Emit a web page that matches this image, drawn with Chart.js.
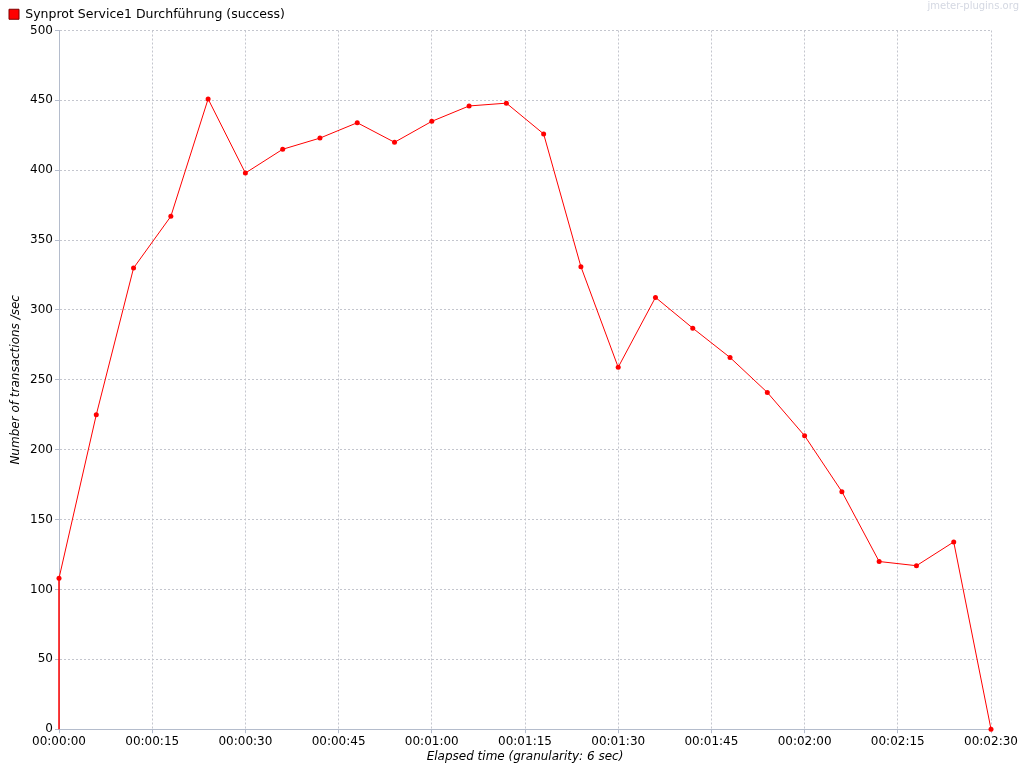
<!DOCTYPE html>
<html>
<head>
<meta charset="utf-8">
<script src="https://cdn.jsdelivr.net/npm/chart.js@4.4.1/dist/chart.umd.min.js"></script>
<style>
    html, body { margin: 0; padding: 0; background: #fff; }
    #wrap { position: relative; width: 1024px; height: 768px; }
</style>
</head>
<body>
<div id="wrap"><canvas id="chart" width="1024" height="768"></canvas></div>
<script>
// seconds since start, one sample per 6 sec
const elapsedSec = [0, 6, 12, 18, 24, 30, 36, 42, 48, 54, 60, 66, 72, 78, 84, 90, 96, 102, 108, 114, 120, 126, 132, 138, 144, 150];
const txPerSec = [108, 225, 330, 367, 451, 398, 415, 423, 434, 420, 435, 446, 448, 426, 331, 259, 309, 287, 266, 241, 210, 170, 120, 117, 134, 0];
// jmeter draws a line from the origin up to the first sample
const startLine = [[0, 0], [0, 108]];
const seriesName = 'Synprot Service1 Durchführung (success)';

const fontFamily = '"DejaVu Sans", Verdana, sans-serif';
const gridColor = '#c4c6ce';
const axisColor = '#b4bccc';

function pad(n) {
    return String(n).padStart(2, '0');
}

function formatTime(sec) {
    const h = Math.floor(sec / 3600);
    const m = Math.floor((sec % 3600) / 60);
    const s = sec % 60;
    return pad(h) + ':' + pad(m) + ':' + pad(s);
}

const watermark = {
    id: 'watermark',
    afterDraw(chart) {
        const ctx = chart.ctx;
        ctx.save();
        ctx.font = '10px ' + fontFamily;
        ctx.fillStyle = '#d4d8e2';
        ctx.textAlign = 'right';
        ctx.textBaseline = 'middle';
        ctx.fillText('jmeter-plugins.org', 1019, 6);
        ctx.restore();
    }
};

new Chart(document.getElementById('chart'), {
    type: 'line',
    data: {
        datasets: [{
            label: seriesName,
            data: elapsedSec.map((t, i) => ({ x: t, y: txPerSec[i] })),
            borderColor: '#ff0000',
            backgroundColor: '#ff0000',
            borderWidth: 1,
            pointRadius: 2.5,
            pointHoverRadius: 2.5,
            pointBorderWidth: 0,
            tension: 0,
            clip: false
        }, {
            label: 'start',
            data: startLine.map(p => ({ x: p[0], y: p[1] })),
            borderColor: '#ff0000',
            borderWidth: 1.5,
            pointRadius: 0,
            clip: false
        }]
    },
    plugins: [watermark],
    options: {
        responsive: false,
        animation: false,
        layout: { padding: { top: 1, right: 33, left: 2, bottom: 4 } },
        plugins: {
            tooltip: { enabled: false },
            legend: {
                position: 'top',
                align: 'start',
                labels: {
                    boxWidth: 10,
                    boxHeight: 10,
                    padding: 7,
                    color: '#000',
                    font: { family: fontFamily, size: 12.5 },
                    generateLabels: chart => [{
                        text: seriesName,
                        fillStyle: '#ff0000',
                        strokeStyle: '#800000',
                        lineWidth: 1,
                        datasetIndex: 0
                    }]
                }
            }
        },
        scales: {
            x: {
                type: 'linear',
                min: 0,
                max: 150,
                border: { color: axisColor, width: 1, dash: [2, 2] },
                grid: {
                    color: gridColor,
                    tickColor: axisColor,
                    tickLength: 4
                },
                ticks: {
                    stepSize: 15,
                    color: '#000',
                    padding: 1,
                    maxRotation: 0,
                    font: { family: fontFamily, size: 12 },
                    callback: v => formatTime(v)
                },
                title: {
                    display: true,
                    text: 'Elapsed time (granularity: 6 sec)',
                    color: '#000',
                    padding: 0,
                    font: { family: fontFamily, size: 12, style: 'italic' }
                }
            },
            y: {
                min: 0,
                max: 500,
                afterFit: scale => { scale.width = 57; },
                border: { color: axisColor, width: 1, dash: [2, 2] },
                grid: {
                    color: gridColor,
                    tickColor: axisColor,
                    tickLength: 4
                },
                ticks: {
                    stepSize: 50,
                    color: '#000',
                    padding: 2,
                    font: { family: fontFamily, size: 12 }
                },
                title: {
                    display: true,
                    text: 'Number of transactions /sec',
                    color: '#000',
                    padding: { top: 7, bottom: 0 },
                    font: { family: fontFamily, size: 12, style: 'italic' }
                }
            }
        }
    }
});
</script>
</body>
</html>
